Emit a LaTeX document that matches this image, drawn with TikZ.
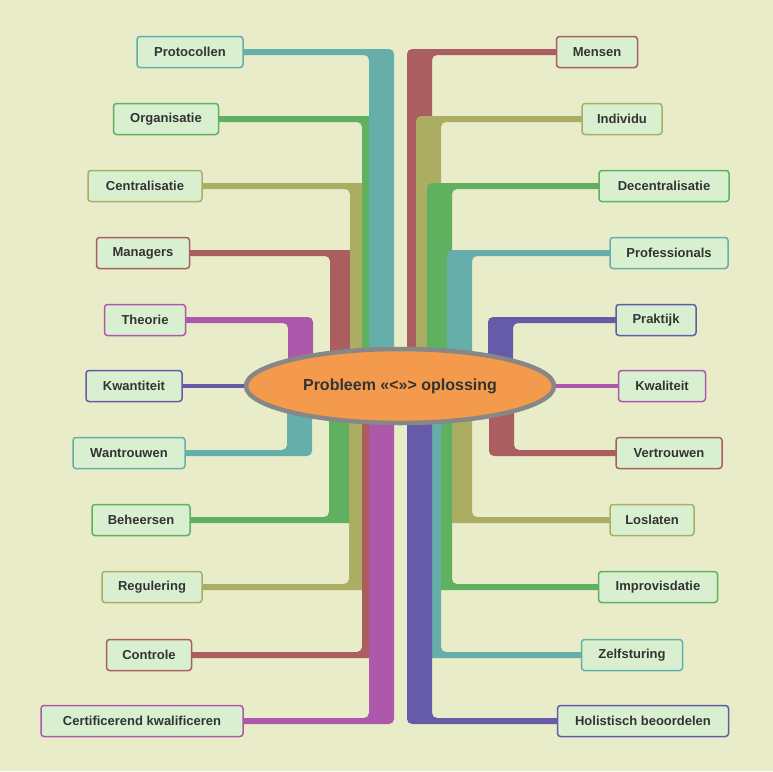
\documentclass[tikz,border=0pt]{standalone}
\usepackage{fontspec}
\setmainfont{Liberation Sans}
\usetikzlibrary{shapes.geometric}
\definecolor{cteal}{HTML}{66AEAA}
\definecolor{cgreen}{HTML}{5FB05F}
\definecolor{colive}{HTML}{ABAD62}
\definecolor{cred}{HTML}{AB5E60}
\definecolor{cpurple}{HTML}{AE58AC}
\definecolor{cindigo}{HTML}{665BA8}
\definecolor{cbg}{HTML}{E8ECC8}
\definecolor{cnode}{HTML}{D8F0D0}
\definecolor{corange}{HTML}{F39A4C}
\definecolor{cgray}{HTML}{878787}
\definecolor{ctext}{HTML}{333333}
\pgfdeclarelayer{bglayer}
\pgfdeclarelayer{barlayer}
\pgfsetlayers{bglayer,barlayer,main}
\newcommand\mybar[7]{%
\fill[#1, rounded corners=5pt] (#2.center |- 0,{#6}) -- (#4,{#6}) -- (#4,#7) -- (#3,#7) -- (#3,{#5}) -- (#2.center |- 0,{#5}) -- cycle;}
\begin{document}
\begin{tikzpicture}[x=1pt,y=-1pt,
  box/.style={draw=#1, line width=1.5pt, fill=cnode, rounded corners=3pt, minimum height=31, inner xsep=4pt, text=ctext, font=\fontsize{13}{15}\selectfont\bfseries}]
\begin{pgfonlayer}{bglayer}
\fill[cbg] (0,0) rectangle (773,771);
\end{pgfonlayer}
\useasboundingbox (0,0) rectangle (773,771);
\path
 (190,52) node[box=cteal, minimum width=106] (P) {Protocollen}
 (166,119) node[box=cgreen, minimum width=105] (O) {Organisatie}
 (145,186) node[box=colive, minimum width=114] (C) {Centralisatie}
 (143,253) node[box=cred, minimum width=93] (M) {Managers}
 (145,320) node[box=cpurple, minimum width=81] (T) {Theorie}
 (134,386) node[box=cindigo, minimum width=96] (K) {Kwantiteit}
 (129,453) node[box=cteal, minimum width=112] (W) {Wantrouwen}
 (141,520) node[box=cgreen, minimum width=98] (B) {Beheersen}
 (152,587) node[box=colive, minimum width=100] (R) {Regulering}
 (149,655) node[box=cred, minimum width=85] (Co) {Controle}
 (142,721) node[box=cpurple, minimum width=202] (Ce) {Certificerend kwalificeren}
 (597,52) node[box=cred, minimum width=81] (Me) {Mensen}
 (622,119) node[box=colive, minimum width=80] (I) {Individu}
 (664,186) node[box=cgreen, minimum width=130] (D) {Decentralisatie}
 (669,253) node[box=cteal, minimum width=118] (Pr) {Professionals}
 (656,320) node[box=cindigo, minimum width=80] (Pa) {Praktijk}
 (662,386) node[box=cpurple, minimum width=87] (Kw) {Kwaliteit}
 (669,453) node[box=cred, minimum width=106] (V) {Vertrouwen}
 (652,520) node[box=colive, minimum width=84] (L) {Loslaten}
 (658,587) node[box=cgreen, minimum width=119] (Im) {Improvisdatie}
 (632,655) node[box=cteal, minimum width=101] (Z) {Zelfsturing}
 (643,721) node[box=cindigo, minimum width=171] (H) {Holistisch beoordelen};
\node[ellipse, draw=cgray, line width=4.5pt, fill=corange, minimum width=308, minimum height=74, inner sep=0pt, text=ctext, font=\fontsize{16}{18}\selectfont\bfseries] (E) at (400,386) {Probleem <<<>>> oplossing};
\begin{pgfonlayer}{barlayer}
% top-left
\mybar{cpurple}{T}{288}{313}{323}{317}{370}
\mybar{cred}{M}{330}{355}{256}{250}{370}
\mybar{colive}{C}{350}{375}{189}{183}{370}
\mybar{cgreen}{O}{362}{387}{122}{116}{370}
\mybar{cteal}{P}{369}{394}{55}{49}{370}
% top-right
\mybar{cindigo}{Pa}{513}{488}{323}{317}{370}
\mybar{cred}{Me}{432}{407}{55}{49}{370}
\mybar{colive}{I}{441}{416}{122}{116}{370}
\mybar{cgreen}{D}{452}{427}{189}{183}{370}
\mybar{cteal}{Pr}{472}{447}{256}{250}{370}
% bottom-left
\mybar{cteal}{W}{287}{312}{450}{456}{400}
\mybar{cgreen}{B}{329}{354}{517}{523}{400}
\mybar{colive}{R}{349}{374}{584}{590}{400}
\mybar{cred}{Co}{362}{386}{652}{658}{400}
\mybar{cpurple}{Ce}{369}{394}{718}{724}{400}
% bottom-right
\mybar{cred}{V}{514}{489}{450}{456}{400}
\mybar{colive}{L}{472}{447}{517}{523}{400}
\mybar{cgreen}{Im}{452}{427}{584}{590}{400}
\mybar{cteal}{Z}{441}{416}{652}{658}{400}
\mybar{cindigo}{H}{432}{407}{718}{724}{400}
\draw[cindigo, line width=4pt] (E.center) -- (K.center);
\draw[cpurple, line width=4pt] (E.center) -- (Kw.center);
\end{pgfonlayer}
\end{tikzpicture}
\end{document}
